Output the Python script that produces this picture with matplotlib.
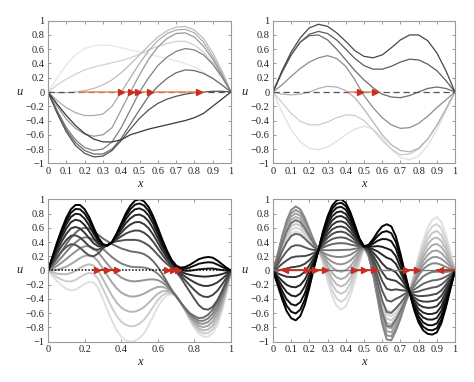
import numpy as np
import matplotlib
matplotlib.use('Agg')
import matplotlib.pyplot as plt
from matplotlib.ticker import FuncFormatter, MultipleLocator

plt.rcParams['font.family'] = ['Liberation Serif', 'DejaVu Serif']

# ---------------- data ----------------
# panels 1 and 2: curves sampled every 0.05 in x
x_coarse = np.linspace(0, 1, 21)

p1_curves = [
    [0, .2, .38, .52, .61, .65, .66, .65, .62, .59, .56, .53, .5, .47, .44, .4, .35, .28, .2, .1, 0],
    [0, .1, .18, .25, .31, .35, .38, .41, .44, .48, .53, .59, .64, .68, .71, .71, .66, .56, .41, .22, 0],
    [0, -.01, -.01, 0, .02, .05, .1, .17, .27, .39, .52, .65, .77, .86, .91, .92, .87, .75, .55, .3, 0],
    [0, -.12, -.22, -.29, -.33, -.33, -.31, -.2, 0, .2, .4, .58, .72, .82, .87, .88, .83, .7, .5, .26, 0],
    [0, -.2, -.38, -.51, -.59, -.62, -.6, -.5, -.25, 0, .24, .46, .63, .75, .82, .83, .77, .64, .46, .24, 0],
    [0, -.26, -.5, -.67, -.78, -.82, -.8, -.7, -.5, -.25, 0, .2, .37, .49, .57, .61, .59, .52, .39, .21, 0],
    [0, -.28, -.53, -.71, -.82, -.87, -.87, -.8, -.65, -.45, -.25, -.06, .08, .19, .27, .31, .3, .26, .19, .1, 0],
    [0, -.3, -.56, -.75, -.86, -.91, -.9, -.82, -.68, -.52, -.37, -.25, -.16, -.1, -.06, -.03, -.01, 0, .01, .01, 0],
    [0, -.17, -.33, -.47, -.58, -.66, -.7, -.7, -.67, -.6, -.56, -.52, -.49, -.46, -.43, -.4, -.36, -.3, -.2, -.1, 0],
]
p1_grays = [0.9, 0.82, 0.74, 0.68, 0.6, 0.5, 0.42, 0.32, 0.22]
p1_track = [0.175, 0.85]
p1_nodes = [0.397, 0.452, 0.493, 0.557, 0.827]

p2_curves = [
    [0, -.28, -.53, -.7, -.79, -.81, -.77, -.69, -.6, -.52, -.48, -.52, -.64, -.8, -.92, -.95, -.9, -.75, -.53, -.27, 0],
    [0, -.15, -.3, -.41, -.46, -.46, -.42, -.36, -.32, -.33, -.4, -.53, -.68, -.8, -.88, -.87, -.8, -.66, -.47, -.24, 0],
    [0, -.03, -.04, -.03, 0, .05, .08, .07, .02, -.08, -.24, -.42, -.6, -.74, -.82, -.84, -.79, -.66, -.47, -.24, 0],
    [0, .1, .22, .33, .42, .48, .51, .47, .36, .17, -.05, -.22, -.36, -.46, -.51, -.5, -.44, -.34, -.22, -.11, 0],
    [0, .28, .52, .7, .79, .8, .73, .6, .45, .3, .17, .06, -.03, -.07, -.08, -.05, 0, .05, .07, .05, 0],
    [0, .28, .52, .7, .81, .85, .82, .73, .6, .47, .37, .32, .32, .36, .42, .46, .45, .39, .3, .16, 0],
    [0, .3, .56, .76, .9, .95, .92, .83, .71, .58, .5, .48, .52, .62, .73, .8, .8, .72, .55, .3, 0],
]
p2_grays = [0.88, 0.8, 0.7, 0.55, 0.42, 0.36, 0.28]
p2_track = [0.416, 0.58]
p2_nodes = [0.48, 0.562]

# panels 3 and 4: extreme curves sampled every 0.025 in x, the others lie between them
x_fine = np.linspace(0, 1, 41)

p3_black_top = [0, .2, .4, .58, .74, .86, .92, .92, .86, .75, .6, .46, .37, .35, .4, .52, .66, .8, .91, .98,
                1.0, .97, .89, .76, .6, .43, .28, .15, .07, .04, .05, .08, .12, .16, .18, .19, .18, .14, .09, .04, 0]
p3_black_bot = [0, .1, .19, .27, .33, .37, .36, .32, .26, .21, .2, .24, .31, .36, .39, .41, .42, .43, .43, .43,
                .42, .39, .35, .29, .22, .15, .09, .04, -.02, -.1, -.2, -.3, -.4, -.49, -.54, -.55, -.51, -.42, -.29, -.15, 0]
p3_gray_top = [0, .08, .17, .27, .37, .46, .53, .58, .6, .59, .55, .5, .45, .41, .37, .34, .31, .29, .27, .26,
               .25, .23, .19, .13, .05, -.05, -.16, -.27, -.36, -.45, -.53, -.6, -.64, -.67, -.66, -.62, -.55, -.45, -.32, -.17, 0]
p3_gray_bot = [0, -.08, -.15, -.21, -.26, -.28, -.27, -.23, -.19, -.16, -.17, -.25, -.4, -.56, -.71, -.84, -.93, -.98, -1.0, -.99,
               -.95, -.88, -.77, -.64, -.51, -.41, -.35, -.33, -.36, -.45, -.57, -.7, -.81, -.89, -.93, -.93, -.88, -.77, -.58, -.32, 0]
p3_black_w = [0, .1, .22, .37, .55, .76, 1]
p3_gray_w = [0, .17, .33, .5, .67, .83, 1]
p3_tracks = [[0.25, 0.39], [0.64, 0.72]]
p3_nodes = [0.266, 0.324, 0.375, 0.649, 0.685, 0.712]

p4_dark = [0, -.2, -.4, -.57, -.67, -.7, -.64, -.48, -.24, .03, .29, .55, .76, .91, .985, 1.0, .95, .82, .64, .45,
           .34, .36, .44, .54, .62, .65, .62, .48, .24, -.03, -.3, -.55, -.73, -.84, -.89, -.9, -.87, -.74, -.52, -.26, 0]
p4_mid = [0, .22, .48, .7, .85, .9, .86, .74, .58, .42, .29, .25, .22, .2, .19, .19, .2, .22, .26, .3,
          .33, .22, -.05, -.4, -.75, -.97, -.98, -.85, -.68, -.48, -.3, -.18, -.07, .02, .07, .1, .1, .08, .05, .02, 0]
p4_light = [0, .12, .28, .42, .52, .55, .53, .47, .4, .34, .29, .1, -.15, -.36, -.5, -.55, -.5, -.36, -.15, .1,
            .33, .2, 0, -.22, -.43, -.55, -.58, -.55, -.48, -.39, -.3, -.05, .2, .42, .6, .71, .75, .68, .5, .26, 0]
p4_dark_w = [0, .06, .13, .21, .29, .38, .47, .56, .66, .76, .88, 1]
p4_light_w = [.14, .28, .42, .56, .7, .85, 1]
p4_tracks = [[0.03, 0.3], [0.44, 0.57], [0.72, 0.8], [0.9, 1.0]]
p4_right_nodes = [0.187, 0.233, 0.287, 0.447, 0.498, 0.553, 0.733, 0.791]
p4_left_nodes = [0.068, 0.92]

RED = '#c62f1f'
ORANGE = '#ec8a5a'


def fmt(v, pos):
    s = '%g' % (round(v, 2) + 0.0)
    return s.replace('-', '\u2212')


def style_axes(ax, xstep):
    ax.set_xlim(0, 1)
    ax.set_ylim(-1, 1)
    ax.xaxis.set_major_locator(MultipleLocator(xstep))
    ax.yaxis.set_major_locator(MultipleLocator(0.2))
    ax.xaxis.set_major_formatter(FuncFormatter(fmt))
    ax.yaxis.set_major_formatter(FuncFormatter(fmt))
    ax.tick_params(direction='in', top=True, right=True, length=2.5, width=0.6,
                   color='#888888', labelsize=7.5, pad=2.5, labelcolor='#222222')
    for s in ax.spines.values():
        s.set_color('#9a9a9a')
        s.set_linewidth(0.8)
    ax.set_xlabel('x', style='italic', fontsize=9, color='#222222')
    ax.set_ylabel('u', style='italic', fontsize=9, rotation=0, va='center', ha='center', color='#222222')
    ax.xaxis.set_label_coords(0.5, -0.1)
    ax.yaxis.set_label_coords(-0.155, 0.5)


def blend(a, b, w):
    return (1 - w) * np.asarray(a) + w * np.asarray(b)


fig = plt.figure(figsize=(4.74, 3.82), dpi=100)
ax1 = fig.add_axes([0.1013, 0.5725, 0.3861, 0.3733])
ax2 = fig.add_axes([0.5759, 0.5725, 0.384, 0.3733])
ax3 = fig.add_axes([0.1013, 0.1055, 0.3861, 0.3728])
ax4 = fig.add_axes([0.5759, 0.1055, 0.384, 0.3728])

# panel 1
for y, g in zip(p1_curves, p1_grays):
    ax1.plot(x_coarse, y, color=str(g), lw=0.9)
ax1.plot([0, 1], [0, 0], ls=(0, (5, 3)), color='#555555', lw=0.9)
ax1.plot(p1_track, [0, 0], color=ORANGE, lw=1.1)
ax1.plot(p1_nodes, np.zeros(len(p1_nodes)), ls='none', marker='>', ms=5, color=RED)
style_axes(ax1, 0.1)

# panel 2
for y, g in zip(p2_curves, p2_grays):
    ax2.plot(x_coarse, y, color=str(g), lw=0.9)
ax2.plot([0, 1], [0, 0], ls=(0, (5, 3)), color='#555555', lw=0.9)
ax2.plot(p2_track, [0, 0], color=ORANGE, lw=1.1)
ax2.plot(p2_nodes, np.zeros(len(p2_nodes)), ls='none', marker='>', ms=5, color=RED)
style_axes(ax2, 0.1)

# panel 3: light family first, then the dark one on top
gray_levels = np.linspace(0.42, 0.88, len(p3_gray_w))
for w, g in zip(p3_gray_w[::-1], gray_levels[::-1]):
    ax3.plot(x_fine, blend(p3_gray_top, p3_gray_bot, w), color=str(g), lw=1.4)
black_levels = np.linspace(0.0, 0.32, len(p3_black_w))
for w, g in zip(p3_black_w[::-1], black_levels[::-1]):
    ax3.plot(x_fine, blend(p3_black_top, p3_black_bot, w), color=str(g), lw=1.4)
ax3.plot([0, 1], [0, 0], ls=(0, (1, 1.2)), color='black', lw=1.1)
for t in p3_tracks:
    ax3.plot(t, [0, 0], color=RED, lw=1.4)
ax3.plot(p3_nodes, np.zeros(len(p3_nodes)), ls='none', marker='>', ms=5, color=RED)
style_axes(ax3, 0.2)

# panel 4
light_levels = np.linspace(0.58, 0.88, len(p4_light_w))
for w, g in zip(p4_light_w[::-1], light_levels[::-1]):
    ax4.plot(x_fine, blend(p4_mid, p4_light, w), color=str(g), lw=1.4)
dark_levels = 0.52 * np.asarray(p4_dark_w)
for w, g in zip(p4_dark_w[::-1], dark_levels[::-1]):
    ax4.plot(x_fine, blend(p4_dark, p4_mid, w), color=str(g), lw=1.4)
ax4.plot([0, 1], [0, 0], color='#7a7a7a', lw=1.0)
for t in p4_tracks:
    ax4.plot(t, [0, 0], color=RED, lw=1.3)
ax4.plot(p4_right_nodes, np.zeros(len(p4_right_nodes)), ls='none', marker='>', ms=5, color=RED)
ax4.plot(p4_left_nodes, np.zeros(len(p4_left_nodes)), ls='none', marker='<', ms=5, color=RED)
style_axes(ax4, 0.1)

fig.savefig('out.png', dpi=100)
